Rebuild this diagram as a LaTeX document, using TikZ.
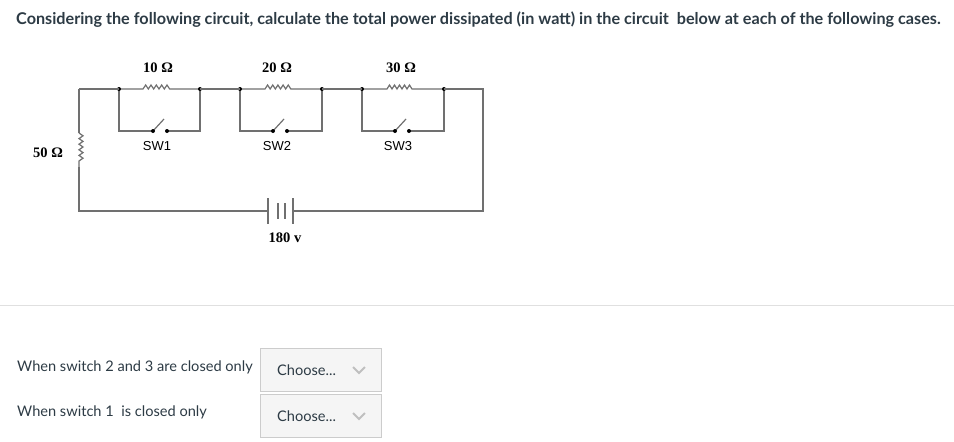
\documentclass[tikz,border=0pt]{standalone}
\usepackage{fontspec}
\setmainfont{Lato}
\newfontfamily\serifx{Liberation Serif}
\newfontfamily\sansx{Liberation Sans}
\usetikzlibrary{calc}
\definecolor{txt}{HTML}{2D3B45}
\definecolor{wire}{HTML}{707070}
\tikzset{
 w/.style={draw=wire,line width=1.7pt},
 dot/.style={circle,fill=black,inner sep=0pt,minimum size=4pt},
 rlab/.style={font=\serifx\bfseries\fontsize{14.5}{14}\selectfont,text=black},
 slab/.style={font=\sansx\fontsize{13}{13}\selectfont,text=black},
 qtxt/.style={font=\fontsize{14.6}{14}\selectfont,text=txt,anchor=west},
 choose/.style={draw=black!20,fill=black!4,line width=0.8pt,minimum width=121pt,minimum height=43pt,anchor=north west,inner sep=0pt}
}
\begin{document}
\begin{tikzpicture}[x=1pt,y=-1pt]
\useasboundingbox[fill=white] (0,0) rectangle (954,442);
\node[anchor=west,font=\bfseries\fontsize{16.2}{16}\selectfont,text=txt,inner sep=0pt] (title) at (16,20) {Considering the following circuit, calculate the total power dissipated (in watt) in the circuit~ below at each of the following cases.};
\coordinate (tl) at (79,89); \coordinate (tr) at (483,89);
\coordinate (bl) at (79,211); \coordinate (br) at (483,211);
\coordinate (ra) at (79,133); \coordinate (rb) at (79,167);
\coordinate (bat1) at (268,211); \coordinate (bat2) at (293,211);
\foreach \i/\a/\b/\za/\zb/\sa in {1/119/200/143/175/153,2/240/322/265/296/273,3/362/444/387/417/395}{
  \coordinate (n\i a) at (\a,89); \coordinate (n\i b) at (\b,89);
  \coordinate (z\i a) at (\za,89); \coordinate (z\i b) at (\zb,89);
  \coordinate (s\i a) at (\sa,131); \coordinate (s\i b) at ({\sa+14},131);
  \coordinate (c\i a) at (\a,131); \coordinate (c\i b) at (\b,131);
  \draw[w,line width=1.2pt] (n\i a) -- (z\i a)
    \foreach \k in {1,...,5}{ -- ++({(\zb-\za)/12},-4) -- ++({(\zb-\za)/12},4)} -- ++({(\zb-\za)/6},0) -- (n\i b);
  \draw[w] (n\i a) -- (c\i a) -- (s\i a);
  \draw[w] (s\i b) -- (c\i b) -- (n\i b);
  \draw[w,line width=1.2pt] (s\i a) -- ++(11,-12);
  \node[dot] at (n\i a) {}; \node[dot] at (n\i b) {};
  \node[dot] at (s\i a) {}; \node[dot] at (s\i b) {};
}
\draw[w] (tl) -- (n1a); \draw[w] (n1b) -- (n2a); \draw[w] (n2b) -- (n3a); \draw[w] (n3b) -- (tr) -- (br) -- (bat2);
\draw[w] (tl) -- (ra);
\draw[w,line width=1.2pt] (ra) \foreach \k in {1,...,3}{ -- ++(4,2.8) -- ++(-4,2.8)} -- ++(4,2.8) -- ++(-4,2.8)-- ++(4,2.8) -- ++(-4,2.8) -- (rb);
\draw[w] (rb) -- (bl) -- (bat1);
\draw[w] (268,198) -- (268,224);
\draw[w] (278,203) -- (278,219);
\draw[w] (285,203) -- (285,219);
\draw[w] (293,198) -- (293,224);
\node[rlab] (l10) at (158,68) {10 Ω};
\node[rlab] (l20) at (277,68) {20 Ω};
\node[rlab] (l30) at (401,68) {30 Ω};
\node[rlab] (l50) at (48,153) {50 Ω};
\node[rlab] (l180) at (285,238) {180 v};
\node[slab] (sw1) at (157,146) {SW1};
\node[slab] (sw2) at (277,146) {SW2};
\node[slab] (sw3) at (398,146) {SW3};
\draw[black!12,line width=0.8pt] (0,305) -- (954,305);
\node[qtxt,inner sep=0pt] (q1) at (17,367) {When switch 2 and 3 are closed only};
\node[qtxt,inner sep=0pt] (q2) at (17,412) {When switch 1~ is closed only};
\foreach \y/\n in {348/b1,394/b2}{
 \node[choose] (\n) at (260,\y) {};
 \node[qtxt,inner sep=0pt] at (277,\y+22) {Choose...};
 \draw[black!25,line width=2pt] (353,\y+19) -- (359,\y+25) -- (365,\y+19);
}
\end{tikzpicture}
\end{document}
